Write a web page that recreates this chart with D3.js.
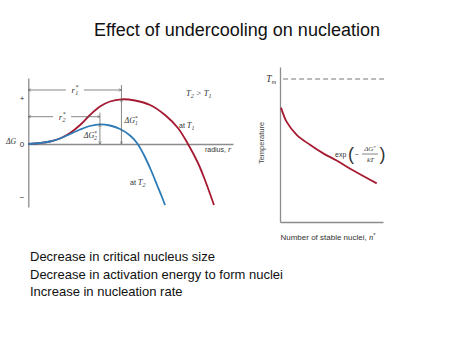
<!DOCTYPE html>
<html>
<head>
<meta charset="utf-8">
<script src="https://cdn.jsdelivr.net/npm/d3@7"></script>
<style>
  html, body { margin: 0; padding: 0; background: #fff; }
  svg { display: block; }
  .sans { font-family: "Liberation Sans", Arial, sans-serif; }
  .math { font-family: "Liberation Serif", "DejaVu Serif", serif; font-style: italic; }
</style>
</head>
<body>
<script>
// ---------- DATA ----------
const title = "Effect of undercooling on nucleation";
const bullets = [
  "Decrease in critical nucleus size",
  "Decrease in activation energy to form nuclei",
  "Increase in nucleation rate"
];

// Left chart: ΔG vs radius
const radiusT1 = [0, 0.57, 1.06, 1.55, 2.04, 2.53, 3.01, 3.50, 3.99, 4.55, 5.21, 5.95, 6.68, 7.31, 7.80, 8.29, 8.63, 9.07];
const dGT1     = [0, 0.02, 0.05, 0.11, 0.22, 0.38, 0.58, 0.75, 0.85, 0.894, 0.87, 0.78, 0.58, 0.32, 0.00, -0.38, -0.72, -1.22];
const radiusT2 = [0, 0.57, 1.06, 1.55, 2.04, 2.53, 3.01, 3.50, 3.99, 4.48, 4.97, 5.31, 5.65, 5.99, 6.29, 6.51, 6.68];
const dGT2     = [0, 0.02, 0.05, 0.11, 0.20, 0.29, 0.36, 0.394, 0.37, 0.30, 0.17, 0.02, -0.22, -0.52, -0.82, -1.04, -1.22];
const dGTickValues = [0.93, 0, -1.06];
const dGTickLabels = ["+", "0", "\u2212"];

// Right chart: Temperature vs number of stable nuclei
const nucleiN = [0.1, 0.65, 1.62, 2.91, 4.20, 5.50, 7.12, 9.39];
const tempT   = [0.80, 0.70, 0.61, 0.54, 0.48, 0.43, 0.36, 0.27];
const Tm = 1.0;

// ---------- DRAW ----------
const W = 474, H = 355;
const svg = d3.select("body").append("svg").attr("width", W).attr("height", H);
svg.append("rect").attr("width", W).attr("height", H).attr("fill", "#fff");

const RED = "#a51a31", BLUE = "#2c7bb6", AXIS = "#8c8c8c", ANN = "#555";

// Title
svg.append("text").attr("class", "sans").attr("x", 237).attr("y", 36)
  .attr("text-anchor", "middle").attr("font-size", 18).attr("fill", "#111").text(title);

// Bullets
svg.selectAll("text.bullet").data(bullets).join("text")
  .attr("class", "sans bullet").attr("x", 30).attr("y", (d, i) => 261 + i * 17.6)
  .attr("font-size", 13).attr("fill", "#111").text(d => d);

// ----- Left chart -----
const xL = d3.scaleLinear().domain([0, 10]).range([28.3, 233]);
const yL = d3.scaleLinear().domain([-1.26, 1.32]).range([207, 78]);
const gL = svg.append("g");

const yAxisL = d3.axisLeft(yL).tickValues(dGTickValues)
  .tickFormat((d, i) => dGTickLabels[i]).tickSize(0).tickSizeOuter(0).tickPadding(4);
const gyL = gL.append("g").attr("transform", `translate(${xL(0)},0)`).call(yAxisL);
gyL.select(".domain").attr("stroke", AXIS).attr("stroke-width", 1.3);
gyL.selectAll("text").attr("class", "sans").attr("font-size", 8).attr("fill", "#333");

const xAxisL = d3.axisBottom(xL).tickValues([]).tickSizeOuter(0);
const gxL = gL.append("g").attr("transform", `translate(0,${yL(0)})`).call(xAxisL);
gxL.select(".domain").attr("stroke", AXIS).attr("stroke-width", 1.3);

const lineL = d3.line().curve(d3.curveCatmullRom.alpha(0.5)).x(d => xL(d[0])).y(d => yL(d[1]));
const ptsT1 = radiusT1.map((r, i) => [r, dGT1[i]]);
const ptsT2 = radiusT2.map((r, i) => [r, dGT2[i]]);
gL.append("path").attr("d", lineL(ptsT1)).attr("fill", "none").attr("stroke", RED).attr("stroke-width", 1.8);
gL.append("path").attr("d", lineL(ptsT2)).attr("fill", "none").attr("stroke", BLUE).attr("stroke-width", 1.8);

// Critical point annotations (from curve peaks)
const pk1 = ptsT1[d3.maxIndex(dGT1)], pk2 = ptsT2[d3.maxIndex(dGT2)];
const defs = svg.append("defs");
defs.append("marker").attr("id", "ah").attr("viewBox", "0 0 10 10").attr("refX", 9).attr("refY", 5)
  .attr("markerWidth", 5).attr("markerHeight", 5).attr("orient", "auto-start-reverse")
  .append("path").attr("d", "M1,1 L9,5 L1,9").attr("fill", "none").attr("stroke", ANN).attr("stroke-width", 1.3);

function hArrow(x0, x1, y, label, sub, lx) {
  const gap = 9;
  gL.append("line").attr("x1", x0).attr("x2", lx - gap).attr("y1", y).attr("y2", y)
    .attr("stroke", ANN).attr("stroke-width", 0.7).attr("marker-start", "url(#ah)");
  gL.append("line").attr("x1", lx + gap).attr("x2", x1).attr("y1", y).attr("y2", y)
    .attr("stroke", ANN).attr("stroke-width", 0.7).attr("marker-end", "url(#ah)");
  const t = gL.append("text").attr("class", "math").attr("x", lx).attr("y", y + 3)
    .attr("text-anchor", "middle").attr("font-size", 9).attr("fill", "#333").text(label);
  t.append("tspan").attr("font-size", 6).attr("dy", 2).text(sub);
  t.append("tspan").attr("font-size", 6).attr("dx", -3).attr("dy", -6).text("*");
}
function vArrow(x, yTop, yPeak, yBase) {
  gL.append("line").attr("x1", x).attr("x2", x).attr("y1", yTop).attr("y2", yPeak)
    .attr("stroke", ANN).attr("stroke-width", 0.7);
  gL.append("line").attr("x1", x).attr("x2", x).attr("y1", yPeak).attr("y2", yBase)
    .attr("stroke", ANN).attr("stroke-width", 0.7)
    .attr("marker-start", "url(#ah)").attr("marker-end", "url(#ah)");
}
const r1y = 90, r2y = 116.7;
hArrow(xL(0), xL(pk1[0]), r1y, "r", "1", (xL(0) + xL(pk1[0])) / 2);
hArrow(xL(0), xL(pk2[0]), r2y, "r", "2", (xL(0) + xL(pk2[0])) / 2 - 2);
vArrow(xL(pk1[0]), r1y - 5, yL(pk1[1]), yL(0));
vArrow(xL(pk2[0]), r2y - 4, yL(pk2[1]), yL(0));

function dGLabel(x, y, sub, anchor) {
  const t = gL.append("text").attr("class", "math").attr("x", x).attr("y", y)
    .attr("text-anchor", anchor).attr("font-size", 8).attr("fill", "#333").text("\u0394G");
  t.append("tspan").attr("font-size", 5.5).attr("dy", 2).text(sub);
  t.append("tspan").attr("font-size", 5.5).attr("dx", -3).attr("dy", -5.5).text("*");
}
dGLabel(xL(pk1[0]) + 3, 123, "1", "start");
dGLabel(xL(pk2[0]) - 3, 138, "2", "end");

// ΔG axis label
gL.append("text").attr("class", "math").attr("x", 6).attr("y", 143.5).attr("font-size", 7.8)
  .attr("fill", "#333").text("\u0394G");

// radius label
const rl = gL.append("text").attr("class", "sans").attr("x", 231).attr("y", 152)
  .attr("text-anchor", "end").attr("font-size", 7).attr("fill", "#333").text("radius, ");
rl.append("tspan").attr("class", "math").attr("font-size", 8).text("r");

// T2 > T1
const tt = gL.append("text").attr("class", "math").attr("x", 186).attr("y", 96)
  .attr("font-size", 8.5).attr("fill", "#333").text("T");
tt.append("tspan").attr("font-size", 6).attr("dy", 2).text("2");
tt.append("tspan").attr("dy", -2).text(" > T");
tt.append("tspan").attr("font-size", 6).attr("dy", 2).text("1");

function atLabel(x, y, sub) {
  const t = gL.append("text").attr("class", "sans").attr("x", x).attr("y", y)
    .attr("font-size", 7).attr("fill", "#333").text("at ");
  t.append("tspan").attr("class", "math").attr("font-size", 8.5).text("T");
  t.append("tspan").attr("class", "math").attr("font-size", 6).attr("dy", 2).text(sub);
}
atLabel(179, 128, "1");
atLabel(130, 185, "2");

// ----- Right chart -----
const xR = d3.scaleLinear().domain([0, 10]).range([280, 383]);
const yR = d3.scaleLinear().domain([0, 1.084]).range([222, 67]);
const gR = svg.append("g");

const gyR = gR.append("g").attr("transform", `translate(${xR(0)},0)`)
  .call(d3.axisLeft(yR).tickValues([Tm]).tickFormat(() => "").tickSize(0).tickSizeOuter(0));
gyR.select(".domain").attr("stroke", AXIS).attr("stroke-width", 1.3);
const gxR = gR.append("g").attr("transform", `translate(0,${yR(0)})`)
  .call(d3.axisBottom(xR).tickValues([]).tickSizeOuter(0));
gxR.select(".domain").attr("stroke", AXIS).attr("stroke-width", 1.3);

gR.append("line").attr("x1", xR(0.3)).attr("x2", xR(10.3)).attr("y1", yR(Tm)).attr("y2", yR(Tm))
  .attr("stroke", "#777").attr("stroke-width", 1).attr("stroke-dasharray", "5,3");
const tm = gR.append("text").attr("class", "math").attr("x", 276).attr("y", yR(Tm) + 3)
  .attr("text-anchor", "end").attr("font-size", 9.5).attr("fill", "#333").text("T");
tm.append("tspan").attr("font-size", 6).attr("dy", 2).text("m");

const lineR = d3.line().curve(d3.curveCatmullRom.alpha(0.5)).x(d => xR(d[0])).y(d => yR(d[1]));
gR.append("path").attr("d", lineR(nucleiN.map((n, i) => [n, tempT[i]])))
  .attr("fill", "none").attr("stroke", RED).attr("stroke-width", 1.8);

gR.append("text").attr("class", "sans").attr("transform", "translate(264,143) rotate(-90)")
  .attr("text-anchor", "middle").attr("font-size", 7.5).attr("fill", "#444").text("Temperature");

const nl = gR.append("text").attr("class", "sans").attr("x", 328).attr("y", 240)
  .attr("text-anchor", "middle").attr("font-size", 8).attr("fill", "#333").text("Number of stable nuclei, ");
nl.append("tspan").attr("class", "math").attr("font-size", 8.5).text("n");
nl.append("tspan").attr("font-size", 6).attr("dy", -3).text("*");

// exp(-ΔG*/kT)
const ex = gR.append("g").attr("fill", "#333").attr("transform", "translate(0,-2)");
ex.append("text").attr("class", "sans").attr("x", 335).attr("y", 159).attr("font-size", 7).text("exp");
ex.append("text").attr("class", "sans").attr("x", 348).attr("y", 161.5).attr("font-size", 18)
  .attr("font-weight", 200).text("(");
ex.append("text").attr("class", "sans").attr("x", 354.5).attr("y", 158.5).attr("font-size", 7).text("\u2212");
const num = ex.append("text").attr("class", "math").attr("x", 370).attr("y", 153).attr("text-anchor", "middle")
  .attr("font-size", 7).text("\u0394G");
num.append("tspan").attr("font-size", 5).attr("dy", -2).text("*");
ex.append("line").attr("x1", 362).attr("x2", 378).attr("y1", 156).attr("y2", 156)
  .attr("stroke", "#333").attr("stroke-width", 0.6);
ex.append("text").attr("class", "math").attr("x", 370.5).attr("y", 163.5).attr("text-anchor", "middle")
  .attr("font-size", 7).text("kT");
ex.append("text").attr("class", "sans").attr("x", 379.5).attr("y", 161.5).attr("font-size", 18)
  .attr("font-weight", 200).text(")");
</script>
</body>
</html>
